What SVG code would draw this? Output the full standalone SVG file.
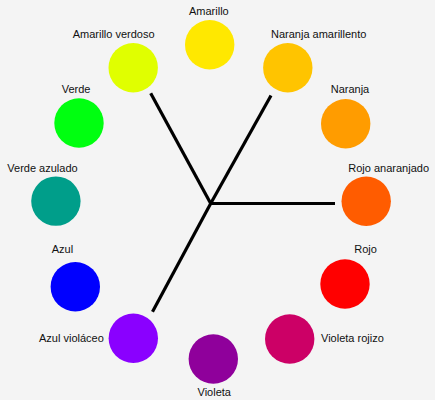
<svg xmlns="http://www.w3.org/2000/svg" width="435" height="400" viewBox="0 0 435 400">
<style>
text{font-family:"Liberation Sans",Arial,sans-serif;font-size:11px;fill:#111}
.c{stroke:none}
.ln{stroke:#000;stroke-width:3.2;fill:none;stroke-linecap:butt}
</style>
<rect width="435" height="400" fill="#f4f4f4"/>
<g id="connectors">
<line class="ln" x1="210.7" y1="203.5" x2="150.7" y2="93.3"/>
<line class="ln" x1="210.7" y1="203.5" x2="271" y2="95.5"/>
<line class="ln" x1="210.7" y1="203.5" x2="152.5" y2="311.7"/>
<line class="ln" x1="209.5" y1="203.5" x2="335" y2="203.5"/>
</g>
<g id="amarillo"><circle class="c" cx="209.7" cy="44.7" r="24.7" fill="#ffe800"/><text x="189" y="14.7">Amarillo</text></g>
<g id="naranja-amarillento"><circle class="c" cx="287.8" cy="67.8" r="24.7" fill="#ffc400"/><text x="271" y="38.3">Naranja amarillento</text></g>
<g id="naranja"><circle class="c" cx="345.7" cy="123.7" r="24.7" fill="#ff9c00"/><text x="330.7" y="93.3">Naranja</text></g>
<g id="rojo-anaranjado"><circle class="c" cx="366.2" cy="201.2" r="24.7" fill="#ff5c00"/><text x="348.3" y="171.7">Rojo anaranjado</text></g>
<g id="rojo"><circle class="c" cx="345" cy="284" r="24.7" fill="#ff0000"/><text x="354.3" y="253.3">Rojo</text></g>
<g id="violeta-rojizo"><circle class="c" cx="289.7" cy="339" r="24.7" fill="#cc0066"/><text x="321" y="342.3">Violeta rojizo</text></g>
<g id="violeta"><circle class="c" cx="213.3" cy="359" r="24.7" fill="#8f009b"/><text x="197.5" y="395.7">Violeta</text></g>
<g id="azul-violaceo"><circle class="c" cx="133.3" cy="338.3" r="24.7" fill="#8a00ff"/><text x="39" y="342.3">Azul violáceo</text></g>
<g id="azul"><circle class="c" cx="75.3" cy="286.7" r="24.7" fill="#0000ff"/><text x="51.7" y="253.3">Azul</text></g>
<g id="verde-azulado"><circle class="c" cx="55.9" cy="201.1" r="24.7" fill="#009e8a"/><text x="7.3" y="171.7">Verde azulado</text></g>
<g id="verde"><circle class="c" cx="79" cy="123" r="24.7" fill="#00ff10"/><text x="61.7" y="93.3">Verde</text></g>
<g id="amarillo-verdoso"><circle class="c" cx="133.2" cy="67.8" r="24.7" fill="#e0ff00"/><text x="72.7" y="38.3">Amarillo verdoso</text></g>
</svg>
